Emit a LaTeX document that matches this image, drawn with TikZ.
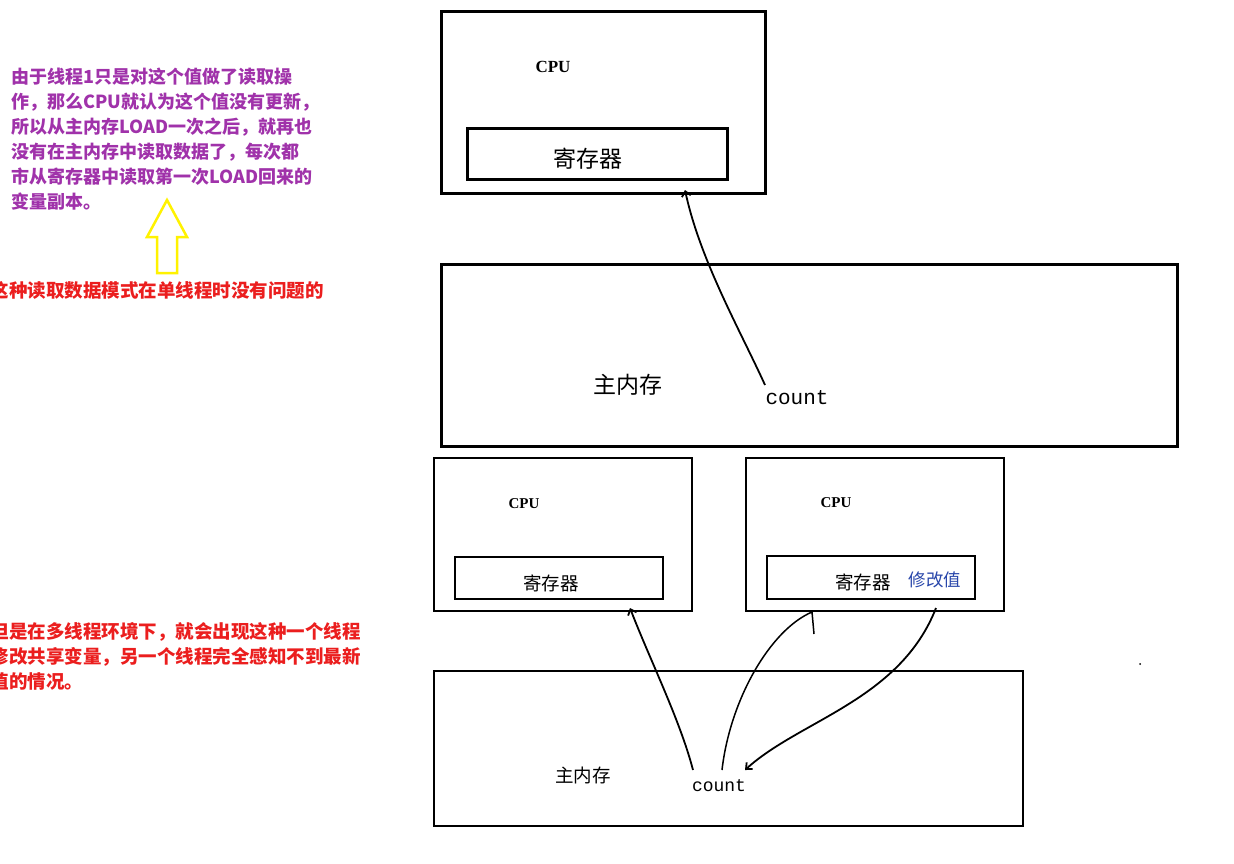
\documentclass[tikz,border=0pt]{standalone}
\usepackage{fontspec}
\setmainfont{Liberation Serif}
\newfontfamily\cjk{Noto Sans CJK SC}
\newfontfamily\mono{Liberation Mono}
\usetikzlibrary{arrows.meta}
\definecolor{purp}{RGB}{160,50,170}
\definecolor{redt}{RGB}{235,30,30}
\definecolor{bluet}{RGB}{40,70,170}
\begin{document}
\begin{tikzpicture}[x=1pt,y=-1pt,
  bigbox/.style={draw,line width=3pt},
  smallbox/.style={draw,line width=2pt},
  lbl/.style={font=\cjk\fontsize{23}{23}\selectfont},
  slbl/.style={font=\cjk\fontsize{18.5}{18.5}\selectfont},
  conn/.style={line width=1.8pt,-{Straight Barb[length=5pt,width=9pt]}}]
\useasboundingbox (0,0) rectangle (1234,864);
\clip (0,0) rectangle (1234,864);
\fill[white] (0,0) rectangle (1234,864);
% top group
\draw[bigbox] (441,12) rectangle (765,193);
\draw[bigbox] (467,129) rectangle (727,179);
\draw[bigbox] (441,264) rectangle (1177,446);
\node (cpu1) at (553,67) {\fontsize{17}{17}\selectfont\bfseries CPU};
\node[lbl] (reg1) at (588,159) {寄存器};
\node[lbl] (mem1) at (628,385) {主内存};
\node (cnt1) at (797,398) {\mono\fontsize{21}{21}\selectfont count};
\coordinate (r1) at (685,190);
\draw[conn] (765,385) .. controls (740,330) and (700,260) .. (r1);
% left notes
\node[anchor=north west,align=left,text=purp,font=\cjk\bfseries\fontsize{18}{25}\selectfont] (note1) at (8,64)
{由于线程1只是对这个值做了读取操\\作，那么CPU就认为这个值没有更新，\\所以从主内存LOAD一次之后，就再也\\没有在主内存中读取数据了，每次都\\市从寄存器中读取第一次LOAD回来的\\变量副本。};
\draw[draw=yellow,line width=2.5pt] (167,200) -- (187,237) -- (177,237) -- (177,273) -- (157,273) -- (157,237) -- (147,237) -- cycle;
\node[anchor=west,text=redt,font=\cjk\bfseries\fontsize{18.5}{18.5}\selectfont] (note2) at (-13,290) {这种读取数据模式在单线程时没有问题的};
\node[anchor=north west,align=left,text=redt,font=\cjk\bfseries\fontsize{18.5}{25}\selectfont] (note3) at (-13,619)
{但是在多线程环境下，就会出现这种一个线程\\修改共享变量，另一个线程完全感知不到最新\\值的情况。};
% bottom group
\draw[smallbox] (434,458) rectangle (692,611);
\draw[smallbox] (455,557) rectangle (663,599);
\draw[smallbox] (746,458) rectangle (1004,611);
\draw[smallbox] (767,556) rectangle (975,599);
\draw[smallbox] (434,671) rectangle (1023,826);
\node (cpu2) at (524,504) {\fontsize{15}{15}\selectfont\bfseries CPU};
\node[slbl] (reg2) at (551,583) {寄存器};
\node (cpu3) at (836,503) {\fontsize{15}{15}\selectfont\bfseries CPU};
\node[slbl] (reg3) at (863,582) {寄存器};
\node[text=bluet,font=\cjk\fontsize{17.5}{17.5}\selectfont] (mod) at (935,580) {修改值};
\node[slbl] (mem2) at (583,775) {主内存};
\node (cnt2) at (719,786) {\mono\fontsize{18}{18}\selectfont count};
\coordinate (r2) at (630,608);
\coordinate (r3) at (812,612);
\coordinate (r4) at (936,608);
\draw[conn] (693,770) .. controls (680,720) and (650,660) .. (r2);
\draw[line width=1.5pt] (722,770) .. controls (730,700) and (770,630) .. (r3) -- (814,634);
\draw[conn] (r4) .. controls (900,700) and (800,720) .. (745,770);
\fill (1140,664) circle (1pt);
\end{tikzpicture}
\end{document}
